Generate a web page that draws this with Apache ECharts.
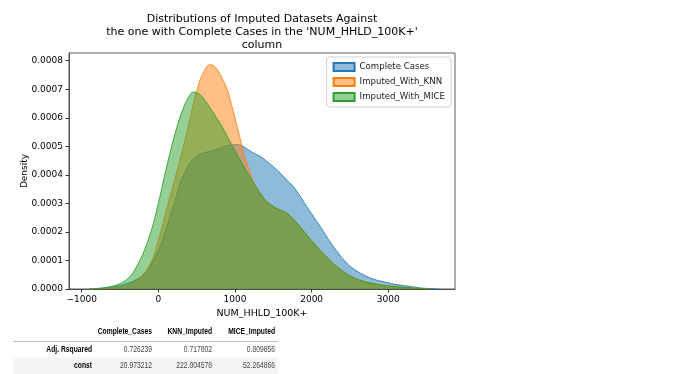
<!DOCTYPE html>
<html>
<head>
<meta charset="utf-8">
<script src="https://cdn.jsdelivr.net/npm/echarts@6/dist/echarts.min.js"></script>
<style>html,body{margin:0;padding:0;background:#fff}#c{width:680px;height:374px}</style>
</head>
<body>
<div id="c"></div>
<script>
// ---- data ----
const seriesNames = ['Complete Cases', 'Imputed_With_KNN', 'Imputed_With_MICE'];

const completeX = [-900,-700,-543,-400,-282,-200,-108,22,100,153,220,283,350,413,500,631,720,805,900,1043,1150,1250,1327,1450,1544,1630,1700,1761,1850,1935,2020,2109,2200,2283,2370,2457,2560,2674,2800,2979,3100,3283,3450,3652];
const completeY = [0,0.000004,0.000009,0.00002,0.000033,0.00005,0.000079,0.000149,0.00021,0.000254,0.00031,0.000371,0.00041,0.000441,0.000465,0.00048,0.000485,0.000494,0.000502,0.000506,0.000492,0.000475,0.000465,0.00044,0.000418,0.000395,0.000375,0.000359,0.000325,0.000289,0.000255,0.00022,0.000182,0.000149,0.000118,0.000091,0.000068,0.00005,0.000035,0.000023,0.000016,0.000009,0.000003,0];

const knnX = [-900,-600,-400,-250,-100,0,100,200,300,400,500,600,674,750,820,892,978,1066,1131,1196,1250,1327,1400,1500,1580,1674,1760,1848,1950,2066,2150,2240,2326,2440,2543,2700,2848,3000,3196,3400,3543];
const knnY = [0,0.000003,0.000012,0.000035,0.00009,0.00017,0.00027,0.00037,0.00047,0.00058,0.000695,0.000765,0.000786,0.000775,0.000745,0.000704,0.000622,0.000529,0.000459,0.00041,0.00037,0.000336,0.00031,0.000289,0.000278,0.000266,0.000245,0.000219,0.000185,0.000149,0.000125,0.0001,0.000079,0.000056,0.00004,0.000025,0.000017,0.000011,0.000006,0.000002,0];

const miceX = [-890,-630,-413,-261,-117,0,80,160,240,320,400,457,544,650,762,860,957,1050,1152,1250,1327,1400,1500,1580,1674,1760,1848,1950,2066,2150,2240,2326,2440,2543,2700,2848,3000,3196,3400,3543];
const miceY = [0,0.000008,0.000033,0.00009,0.000184,0.0003,0.000395,0.000485,0.000565,0.00063,0.000675,0.00069,0.000681,0.000645,0.000599,0.000555,0.000506,0.00046,0.000412,0.00037,0.000336,0.00031,0.000289,0.000278,0.000266,0.000245,0.000219,0.000185,0.000149,0.000125,0.0001,0.000079,0.000056,0.00004,0.000025,0.000017,0.000011,0.000006,0.000002,0];

const xTicks = [-1000, 0, 1000, 2000, 3000];
const yTicks = [0, 0.0001, 0.0002, 0.0003, 0.0004, 0.0005, 0.0006, 0.0007, 0.0008];

const tableColumns = ['Complete_Cases', 'KNN_Imputed', 'MICE_Imputed'];
const tableRowNames = ['Adj. Rsquared', 'const'];
const tableValues = [
  ['0.726239', '0.717802', '0.809856'],
  ['20.973212', '222.004578', '52.264866']
];

// ---- chart ----
const colors = ['#1f77b4', '#ff7f0e', '#2ca02c'];
const fills = ['rgba(31,119,180,0.5)', 'rgba(255,127,14,0.5)', 'rgba(44,160,44,0.5)'];
const xs = [completeX, knnX, miceX];
const ys = [completeY, knnY, miceY];

const font = 'DejaVu Sans';
const chart = echarts.init(document.getElementById('c'), null, {renderer: 'canvas'});

const series = seriesNames.map((name, i) => ({
  name: name,
  type: 'line',
  smooth: 0.4,
  showSymbol: false,
  symbol: 'none',
  data: xs[i].map((x, j) => [x, ys[i][j]]),
  lineStyle: {color: colors[i], width: 1, opacity: 0.85},
  itemStyle: {color: fills[i], borderColor: colors[i], borderWidth: 0.8},
  areaStyle: {color: fills[i], opacity: 1},
  z: 2 + i,
  silent: true
}));

const graphics = [];
graphics.push({
  type: 'text', x: 262, y: 13,
  style: {text: "Distributions of Imputed Datasets Against\nthe one with Complete Cases in the 'NUM_HHLD_100K+'\ncolumn",
    align: 'center', verticalAlign: 'top', font: '11px "DejaVu Sans"', lineHeight: 13, fill: '#000'}
});
const colRight = [152, 212, 275];
const tblFont = '9.5px "Liberation Sans"';
const tblBold = 'bold 9.5px "Liberation Sans"';
const sx = 0.71;
graphics.push({type: 'rect', shape: {x: 13, y: 357, width: 265, height: 17}, style: {fill: '#f5f5f5'}});
graphics.push({type: 'line', shape: {x1: 13, y1: 341.5, x2: 278, y2: 341.5}, style: {stroke: '#bdbdbd', lineWidth: 1}});
tableColumns.forEach((c, i) => {
  graphics.push({type: 'text', x: colRight[i], y: 331, scaleX: sx,
    style: {text: c, align: 'right', verticalAlign: 'middle', font: tblBold, fill: '#000'}});
});
const rowY = [349, 365];
tableRowNames.forEach((r, k) => {
  graphics.push({type: 'text', x: 92, y: rowY[k], scaleX: sx,
    style: {text: r, align: 'right', verticalAlign: 'middle', font: tblBold, fill: '#000'}});
  tableValues[k].forEach((v, i) => {
    graphics.push({type: 'text', x: colRight[i], y: rowY[k], scaleX: sx,
      style: {text: v, align: 'right', verticalAlign: 'middle', font: tblFont, fill: '#444'}});
  });
});

chart.setOption({
  animation: false,
  backgroundColor: '#fff',
  grid: {left: 69, right: 225, top: 53, bottom: 85, show: true, borderColor: '#333', borderWidth: 0.8, backgroundColor: 'transparent'},
  legend: {
    data: seriesNames,
    orient: 'vertical',
    right: 229, top: 57,
    icon: 'rect',
    itemWidth: 21, itemHeight: 8, itemGap: 5,
    padding: [5, 6, 5, 6],
    backgroundColor: 'rgba(255,255,255,0.8)',
    borderColor: '#d0d0d0', borderWidth: 1, borderRadius: 3,
    textStyle: {fontFamily: font, fontSize: 8.6, color: '#222', padding: [0, 0, 0, 0]},
    selectedMode: false
  },
  xAxis: {
    type: 'value', min: -1165, max: 3870,
    name: 'NUM_HHLD_100K+', nameLocation: 'middle', nameGap: 20, nameMoveOverlap: false,
    nameTextStyle: {fontFamily: font, fontSize: 9.5, color: '#000'},
    axisLine: {show: true, onZero: false, lineStyle: {color: '#333', width: 0.8}},
    axisTick: {show: true, length: 3.5, lineStyle: {color: '#333'}, customValues: xTicks},
    axisLabel: {fontFamily: font, fontSize: 9, color: '#000', margin: 6, customValues: xTicks,
      formatter: v => v < 0 ? '\u2212' + Math.abs(v) : String(v)},
    splitLine: {show: false}
  },
  yAxis: {
    type: 'value', min: 0, max: 0.000827,
    name: 'Density', nameLocation: 'middle', nameGap: 40, nameMoveOverlap: false,
    nameTextStyle: {fontFamily: font, fontSize: 9, color: '#000'},
    axisLine: {show: true, onZero: false, lineStyle: {color: '#333', width: 0.8}},
    axisTick: {show: true, length: 3.5, lineStyle: {color: '#333'}, customValues: yTicks},
    axisLabel: {fontFamily: font, fontSize: 9, color: '#000', margin: 6, customValues: yTicks,
      formatter: v => v.toFixed(4)},
    splitLine: {show: false}
  },
  series: series,
  graphic: graphics
});
</script>
</body>
</html>
